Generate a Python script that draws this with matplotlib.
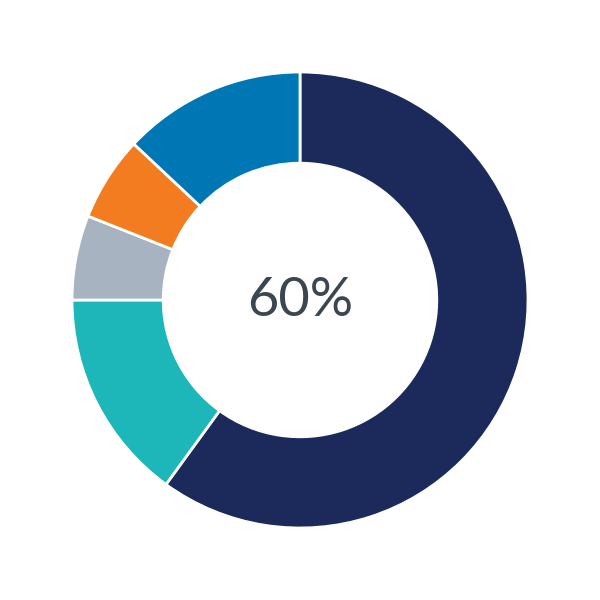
import matplotlib
matplotlib.use("Agg")
import matplotlib.pyplot as plt

labels = ["Navy", "Teal", "Gray", "Orange", "Blue"]
values = [60, 15, 6, 6, 13]
colors = ["#1b2a5a", "#1db6b9", "#a8b3c1", "#f47c20", "#0077b5"]
center_label = "60%"

fig = plt.figure(figsize=(6, 6), dpi=100)
ax = fig.add_axes([0, 0, 1, 1])
ax.pie(values, colors=colors, startangle=90, counterclock=False, radius=1,
       wedgeprops=dict(width=0.4, edgecolor="white", linewidth=2))
lim = 300 / 228
ax.set_xlim(-lim, lim)
ax.set_ylim(-lim, lim)
ax.set_aspect("equal")
ax.axis("off")
ax.text(0, 0, center_label, ha="center", va="center", fontsize=39,
        family=["Lato", "DejaVu Sans"], fontweight="normal", color="#3b4650")
fig.savefig("out.png", dpi=100, facecolor="white")
